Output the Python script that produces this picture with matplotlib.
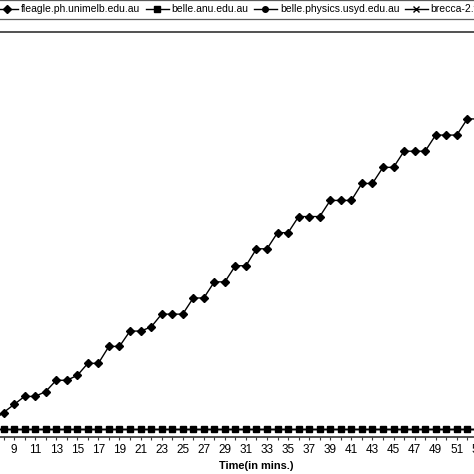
import matplotlib
matplotlib.use("Agg")
import matplotlib.pyplot as plt

plt.rcParams['font.family'] = ['Liberation Sans', 'DejaVu Sans']

# time in minutes
minutes = list(range(7, 54))
# jobs completed (rising series)
fleagle = [0.5, 1.0, 1.5, 2.0, 2.0, 2.3, 3.0, 3.0, 3.3, 4.05, 4.05, 5.1, 5.1, 6.05, 6.05,
           6.3, 7.1, 7.1, 7.1, 8.1, 8.1, 9.1, 9.1, 10.1, 10.1, 11.15, 11.15, 12.15, 12.15,
           13.15, 13.15, 13.15, 14.15, 14.15, 14.15, 15.2, 15.2, 16.2, 16.2, 17.2, 17.2,
           17.2, 18.2, 18.2, 18.2, 19.2, 19.2]
belle_anu = [0] * len(minutes)
belle_physics = [0] * len(minutes)
brecca = [0] * len(minutes)

labels = ['fleagle.ph.unimelb.edu.au', 'belle.anu.edu.au',
          'belle.physics.usyd.edu.au', 'brecca-2.vpac.org']
tick_minutes = list(range(9, 54, 2))

fig = plt.figure(figsize=(4.74, 4.74), dpi=100)
ax = fig.add_axes([-0.1705, 0.0781, 1.4232, 0.8544])

l1, = ax.plot(minutes, fleagle, color='black', lw=1.0, marker='D', ms=3.6)
l3, = ax.plot(minutes, belle_physics, color='black', lw=1.0, marker='o', ms=4)
l4, = ax.plot(minutes, brecca, color='black', lw=1.0, marker='x', ms=4)
l2, = ax.plot(minutes, belle_anu, color='black', lw=1.0, marker='s', ms=4.8)

ax.set_xlim(0, 64)
ax.set_ylim(-0.515, 24.59)
ax.set_xticks(tick_minutes)
ax.set_xticks(range(0, 64), minor=True)
ax.tick_params(axis='x', which='both', direction='out', length=2.5, width=0.8,
               labelsize=8.5, pad=2.5, color='#333333')
ax.set_yticks([])
for s in ax.spines.values():
    s.set_linewidth(1.2)
    s.set_color('#333333')
ax.set_xlabel('Time(in mins.)', fontsize=7.9, fontweight='bold', labelpad=4)

leg = fig.legend([l1, l2, l3, l4], labels, loc='lower left',
                 bbox_to_anchor=(-9 / 474, 1 - 18.5 / 474), ncol=4,
                 fontsize=7.5, frameon=True, fancybox=False, edgecolor='#333333',
                 handlelength=2.2, handletextpad=0.3, columnspacing=0.5,
                 borderpad=0.4, numpoints=1, borderaxespad=0)
leg.get_frame().set_linewidth(0.9)

fig.savefig('out.png', dpi=100)
